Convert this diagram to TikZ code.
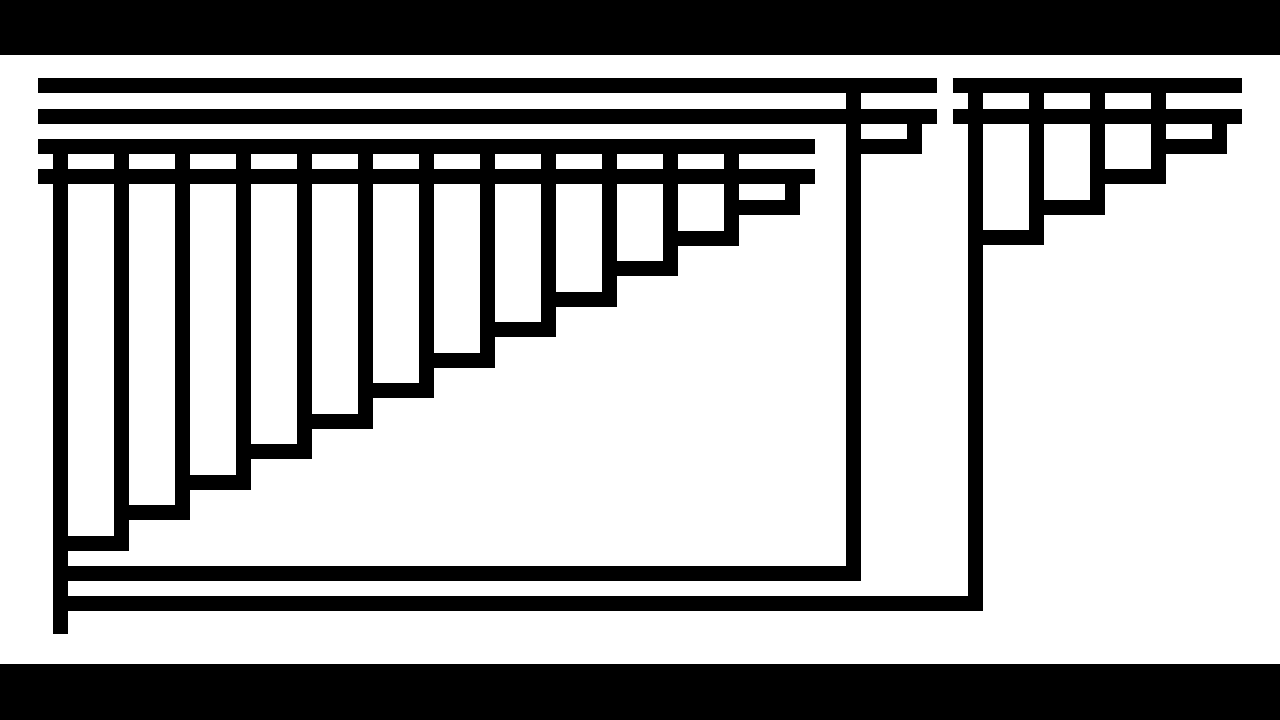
\documentclass[tikz,border=0pt]{standalone}
\begin{document}
\begin{tikzpicture}[x=1pt,y=-1pt]
\tikzset{bar/.style={draw=black,line width=15pt,line join=miter,line cap=butt}}
\useasboundingbox (0,0) rectangle (1280,720);
\fill[white] (0,0) rectangle (1280,720);
\fill[black] (0,0) rectangle (1280,55);
\fill[black] (0,664) rectangle (1280,720);
% left horizontal lines
\draw[bar] (38.3,85.8) -- (936.7,85.8);
\draw[bar] (38.3,116) -- (936.7,116);
\draw[bar] (38.3,146.5) -- (815,146.5);
\draw[bar] (38.3,176.8) -- (815,176.8);
% right horizontal lines
\draw[bar] (952.7,85.8) -- (1241.7,85.8);
\draw[bar] (952.7,116) -- (1241.7,116);
% left comb
\foreach \k in {1,...,11} {
  \draw[bar] ({60.8+61*\k},146.5) -- ({60.8+61*\k},{207.5+30.5*(12-\k)}) -- ({60.8+61*(\k-1)},{207.5+30.5*(12-\k)});
}
\draw[bar] (792.8,176.8) -- (792.8,207.5) -- (731.8,207.5);
\draw[bar] (60.8,146.5) -- (60.8,634);
% middle
\draw[bar] (853,85.8) -- (853,573) -- (60.8,573);
\draw[bar] (914,116) -- (914,146.5) -- (853,146.5);
% right comb
\draw[bar] (975,85.8) -- (975,603.5) -- (60.8,603.5);
\draw[bar] (1036,85.8) -- (1036,237.5) -- (975,237.5);
\draw[bar] (1097,85.8) -- (1097,207.5) -- (1036,207.5);
\draw[bar] (1158,85.8) -- (1158,176.5) -- (1097,176.5);
\draw[bar] (1219,116) -- (1219,146.5) -- (1158,146.5);
\end{tikzpicture}
\end{document}
